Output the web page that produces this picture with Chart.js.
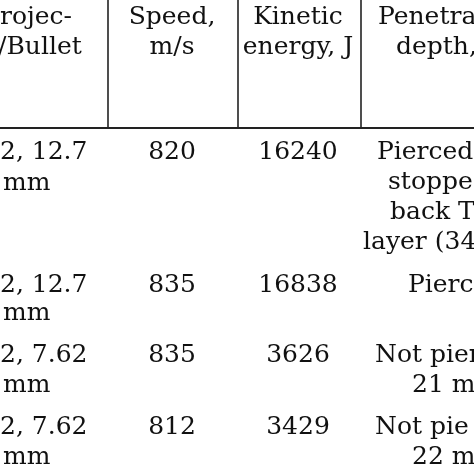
<!DOCTYPE html>
<html><head><meta charset="utf-8">
<script src="https://cdn.jsdelivr.net/npm/chart.js@4"></script>
<style>html,body{margin:0;padding:0;background:#fff}#w{width:474px;height:474px}</style>
</head><body><div id="w"><canvas id="c" width="474" height="474"></canvas></div>
<script>
// Data (visible, cropped portion of the table)
const headers = [["rojec-","/Bullet"],["Speed,","m/s"],["Kinetic","energy, J"],["Penetra","depth,"]];
const projectiles = [["2, 12.7","mm"],["2, 12.7","mm"],["2, 7.62","mm"],["2, 7.62","mm"]];
const speeds = [820, 835, 835, 812];
const energies = [16240, 16838, 3626, 3429];
const penetration = [["Pierced","stoppe","back T","layer (34"],["Pierc"],["Not pier","21 m"],["Not pie","22 m"]];

// Layout (positions in scale units)
const rowY = [152, 285, 355, 427];
const lineH = 30;
const colX = {proj:0, speed:172, energy:298};
const penX = [[377,388,390,363],[408],[375,412],[375,412]];
const vLines = [108, 238, 361];
const headY = [17, 47];

const tablePlugin = {
  id:'table',
  afterDraw(chart){
    const {ctx, scales:{x,y}} = chart;
    const X=v=>x.getPixelForValue(v), Y=v=>y.getPixelForValue(v);
    ctx.save();
    ctx.strokeStyle='#222'; ctx.lineWidth=2;
    ctx.beginPath(); ctx.moveTo(X(0),Y(128)); ctx.lineTo(X(474),Y(128)); ctx.stroke();
    ctx.lineWidth=1.6;
    vLines.forEach(v=>{ctx.beginPath();ctx.moveTo(X(v),Y(0));ctx.lineTo(X(v),Y(128));ctx.stroke();});
    ctx.fillStyle='#111'; ctx.font='25px "DejaVu Serif"'; ctx.textBaseline='middle';
    // headers
    ctx.textAlign='left';
    headers[0].forEach((t,i)=>ctx.fillText(t,X(i?-2:0),Y(headY[i])));
    ctx.textAlign='center';
    headers[1].forEach((t,i)=>ctx.fillText(t,X(colX.speed),Y(headY[i])));
    headers[2].forEach((t,i)=>ctx.fillText(t,X(colX.energy),Y(headY[i])));
    ctx.textAlign='left';
    ctx.fillText(headers[3][0],X(378),Y(headY[0]));
    ctx.fillText(headers[3][1],X(396),Y(headY[1]));
    // rows
    rowY.forEach((ry,r)=>{
      ctx.textAlign='left';
      ctx.fillText(projectiles[r][0],X(colX.proj),Y(ry));
      ctx.fillText(projectiles[r][1],X(colX.proj+3),Y(ry+(r<2&&r===0?31:(r===1?28:30))));
      ctx.textAlign='center';
      ctx.fillText(String(speeds[r]),X(colX.speed),Y(ry));
      ctx.fillText(String(energies[r]),X(colX.energy),Y(ry));
      ctx.textAlign='left';
      penetration[r].forEach((t,i)=>ctx.fillText(t,X(penX[r][i]),Y(ry+i*lineH)));
    });
    ctx.restore();
  }
};

new Chart(document.getElementById('c'),{
  type:'scatter',
  data:{datasets:[{data:[],pointRadius:0}]},
  options:{
    responsive:false, animation:false,
    layout:{padding:0},
    plugins:{legend:{display:false},tooltip:{enabled:false}},
    scales:{
      x:{type:'linear',min:0,max:474,display:false},
      y:{type:'linear',min:0,max:474,reverse:true,display:false}
    }
  },
  plugins:[tablePlugin]
});
</script></body></html>
